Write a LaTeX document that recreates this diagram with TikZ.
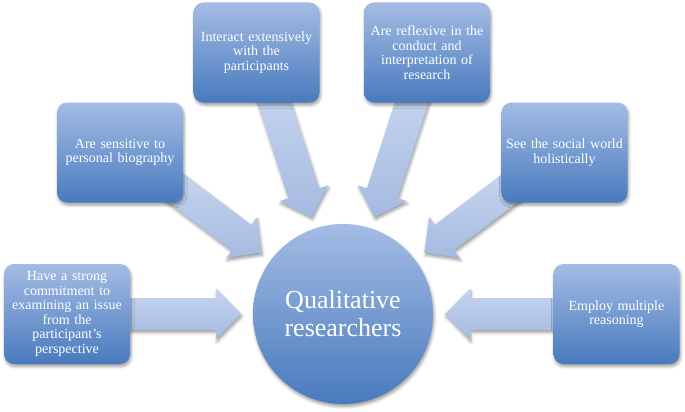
\documentclass[tikz,border=0pt]{standalone}
\usepackage{fontspec}
\setmainfont{Liberation Serif}
\usetikzlibrary{calc,shadows.blur}
\definecolor{boxtop}{RGB}{164,188,228}
\definecolor{boxbot}{RGB}{72,122,190}
\definecolor{arrtop}{RGB}{198,213,239}
\definecolor{arrbot}{RGB}{164,186,225}
\tikzset{
  boxshadow/.style={blur shadow={shadow xshift=1pt,shadow yshift=-2.5pt,shadow blur radius=3pt,shadow opacity=40}},
  box/.style={rounded corners=10pt, minimum width=126pt, minimum height=100pt,
    text width=122pt, align=center, top color=boxtop, bottom color=boxbot,
    text=white, font=\fontsize{14}{14.6}\selectfont, boxshadow, inner sep=0pt},
  hub/.style={circle, minimum size=180pt, top color=boxtop, bottom color=boxbot,
    text=white, font=\fontsize{26}{28}\selectfont, align=center, boxshadow, inner sep=0pt},
  arrowfill/.style={top color=arrtop, bottom color=arrbot, boxshadow},
}
% #1 name suffix, #2 angle seen from the hub, #3 tip radius, #4 start radius
\newcommand{\blockarrow}[4]{%
  \pgfmathsetmacro\bad{#2+180}%
  \pgfmathsetmacro\bal{#4-#3-25}%
  \coordinate (t#1) at ($(hubc)+(#2:#3pt)$);
  \coordinate (s#1) at ($(hubc)+(#2:#4pt)$);
  \path[arrowfill] ($(s#1)+(\bad+90:16pt)$) -- ++(\bad:\bal pt) -- ++(\bad+90:9.5pt)
    -- (t#1) -- ++(\bad-134.43:35.71pt) -- ++(\bad+90:9.5pt)
    -- ($(s#1)+(\bad-90:16pt)$) -- cycle;
}
\begin{document}
\begin{tikzpicture}[x=1pt,y=-1pt]
\useasboundingbox (0,0) rectangle (685,412);
\coordinate (hubc) at (343,314);
% block arrows (behind the boxes)
\blockarrow{l}{180}{102}{213}
\blockarrow{r}{0}{102}{210}
\blockarrow{a}{143}{102}{212}
\blockarrow{b}{108}{102}{232}
\blockarrow{c}{72}{102}{232}
\blockarrow{d}{37}{102}{212}
% boxes
\node[box] (b1) at (67,314) {Have a strong\\commitment to\\examining an issue\\from the\\participant’s\\perspective};
\node[box] (b2) at (120,152.5) {Are sensitive to\\personal biography};
\node[box] (b3) at (256.5,52.5) {Interact extensively\\with the\\participants};
\node[box] (b4) at (427,52.5) {Are reflexive in the\\conduct and\\interpretation of\\research};
\node[box] (b5) at (564.5,152.5) {See the social world\\holistically};
\node[box] (b6) at (616.5,314) {Employ multiple\\reasoning};
% hub
\node[hub] (hub) at (hubc) {Qualitative\\researchers};
\end{tikzpicture}
\end{document}
